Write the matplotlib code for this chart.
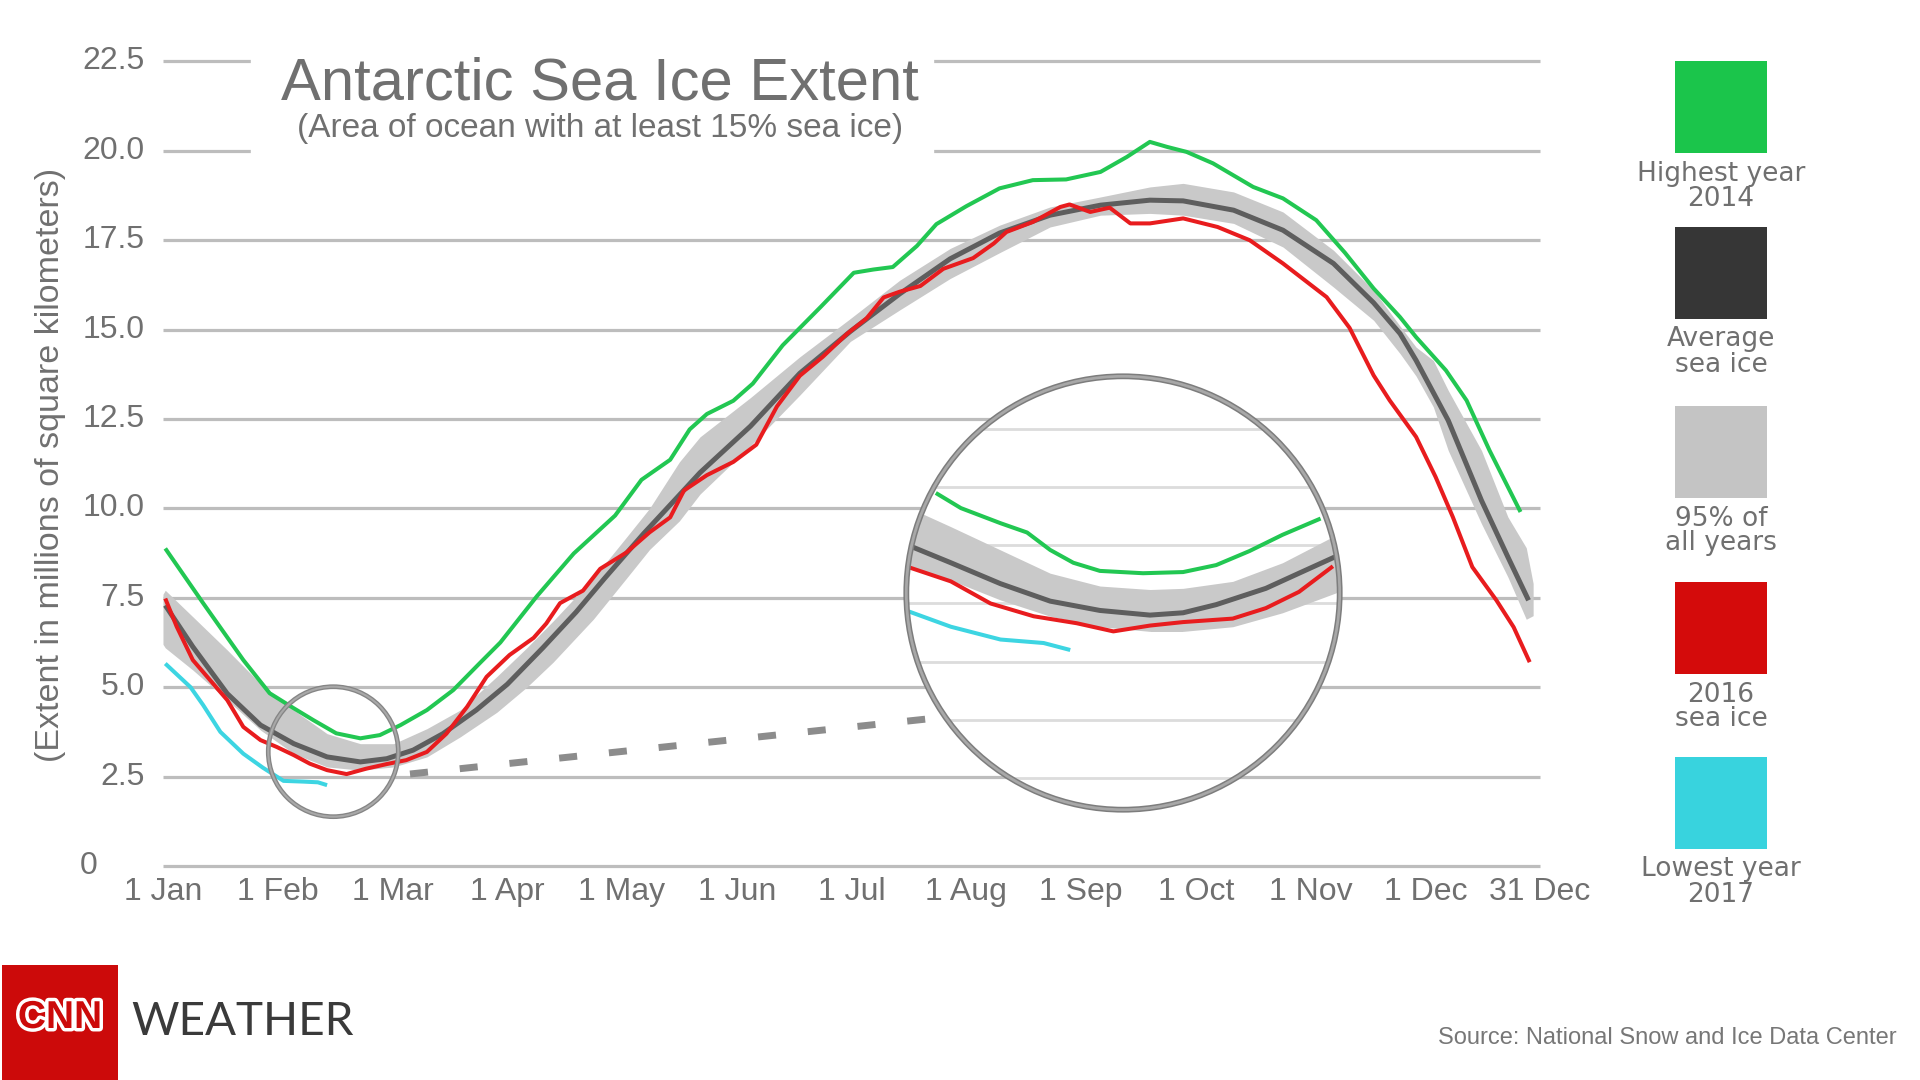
import matplotlib
matplotlib.use('Agg')
import matplotlib.pyplot as plt
import matplotlib.patheffects as pe
from matplotlib.patches import Rectangle, Circle, Ellipse
from matplotlib.lines import Line2D

# ---- data (x in months from 1 Jan, y in million km2) ----
month_labels = ['1 Jan', '1 Feb', '1 Mar', '1 Apr', '1 May', '1 Jun', '1 Jul',
                '1 Aug', '1 Sep', '1 Oct', '1 Nov', '1 Dec', '31 Dec']
y_ticks = [0, 2.5, 5.0, 7.5, 10.0, 12.5, 15.0, 17.5, 20.0, 22.5]
y_tick_labels = ['0', '2.5', '5.0', '7.5', '10.0', '12.5', '15.0', '17.5', '20.0', '22.5']

high_m = [0.02, 0.35, 0.70, 0.93, 1.14, 1.31, 1.51, 1.72, 1.89, 2.07, 2.30, 2.53, 2.76,
          2.94, 3.26, 3.58, 3.94, 4.17, 4.42, 4.59, 4.74, 4.97, 5.14, 5.40, 5.73, 6.02,
          6.19, 6.36, 6.57, 6.74, 7.00, 7.29, 7.58, 7.87, 8.17, 8.40, 8.60, 8.75, 8.92,
          9.15, 9.50, 9.76, 10.05, 10.30, 10.55, 10.78, 10.92, 11.18, 11.36, 11.56, 11.83]
high_v = [8.88, 7.35, 5.76, 4.83, 4.41, 4.08, 3.71, 3.57, 3.66, 3.94, 4.36, 4.92, 5.67,
          6.25, 7.55, 8.74, 9.80, 10.80, 11.36, 12.21, 12.64, 13.01, 13.49, 14.56, 15.63, 16.59,
          16.68, 16.75, 17.34, 17.95, 18.45, 18.95, 19.18, 19.20, 19.41, 19.83, 20.25, 20.11, 19.97,
          19.65, 18.99, 18.67, 18.06, 17.15, 16.15, 15.35, 14.79, 13.86, 13.02, 11.62, 9.90]

avg_m = [0.02, 0.26, 0.56, 0.85, 1.14, 1.43, 1.72, 1.95, 2.18, 2.44, 2.73, 3.00, 3.31,
         3.60, 3.85, 4.19, 4.45, 4.68, 5.12, 5.55, 5.99, 6.42, 6.86, 7.29, 7.73, 8.17,
         8.60, 8.89, 9.33, 9.76, 10.20, 10.55, 10.78, 10.92, 11.20, 11.49, 11.72, 11.90]
avg_v = [7.29, 6.13, 4.82, 3.94, 3.42, 3.05, 2.91, 3.00, 3.24, 3.70, 4.36, 5.08, 6.10,
         7.10, 8.05, 9.30, 10.20, 11.00, 12.30, 13.78, 14.95, 16.00, 16.98, 17.70, 18.20, 18.48,
         18.62, 18.60, 18.34, 17.78, 16.85, 15.75, 14.89, 14.14, 12.46, 10.22, 8.64, 7.43]

band_m = [0.00, 0.02, 0.26, 0.56, 0.85, 1.14, 1.43, 1.72, 2.01, 2.30, 2.59, 2.91, 3.17,
          3.40, 3.75, 4.04, 4.24, 4.50, 4.68, 5.12, 5.55, 5.99, 6.42, 6.86, 7.29, 7.73, 8.17,
          8.60, 8.89, 9.33, 9.76, 10.20, 10.55, 10.78, 10.92, 11.07, 11.20, 11.49, 11.72,
          11.88, 11.94]
band_hi = [7.60, 7.71, 6.97, 6.04, 5.10, 4.36, 3.70, 3.42, 3.42, 3.84, 4.36, 5.30, 6.10,
           6.85, 8.05, 9.20, 10.00, 11.30, 12.00, 13.10, 14.24, 15.31, 16.38, 17.27, 17.92, 18.43, 18.71,
           18.99, 19.09, 18.85, 18.29, 17.22, 16.10, 15.10, 14.51, 14.14, 13.30, 11.62, 9.76,
           8.90, 7.90]
band_lo = [6.20, 6.10, 5.48, 4.64, 3.80, 3.14, 2.77, 2.68, 2.77, 3.05, 3.61, 4.30, 5.00,
           5.70, 6.90, 8.05, 8.85, 9.65, 10.40, 11.75, 13.17, 14.67, 15.55, 16.43, 17.15, 17.87, 18.20,
           18.25, 18.20, 17.97, 17.31, 16.19, 15.26, 14.33, 13.70, 12.84, 11.62, 9.57, 8.08,
           6.90, 7.00]

y2016_m = [0.02, 0.12, 0.26, 0.41, 0.56, 0.70, 0.85, 0.99, 1.14, 1.28, 1.43, 1.60, 1.77,
           1.95, 2.12, 2.30, 2.47, 2.65, 2.82, 3.02, 3.23, 3.34, 3.46, 3.66, 3.81, 4.04,
           4.24, 4.42, 4.54, 4.74, 4.97, 5.17, 5.35, 5.55, 5.75, 5.96, 6.13, 6.28, 6.42,
           6.60, 6.80, 7.06, 7.24, 7.35, 7.58, 7.82, 7.90, 8.08, 8.25, 8.43, 8.60, 8.89,
           9.19, 9.47, 9.76, 10.14, 10.34, 10.55, 10.69, 10.92, 11.09, 11.24, 11.41, 11.62,
           11.77, 11.91]
y2016_v = [7.48, 6.69, 5.76, 5.20, 4.64, 3.89, 3.52, 3.33, 3.10, 2.86, 2.68, 2.57, 2.72,
           2.85, 2.96, 3.19, 3.70, 4.45, 5.29, 5.90, 6.38, 6.78, 7.35, 7.70, 8.31, 8.77,
           9.33, 9.75, 10.50, 10.93, 11.30, 11.78, 12.85, 13.71, 14.24, 14.88, 15.31, 15.90, 16.06,
           16.22, 16.70, 17.00, 17.41, 17.73, 18.01, 18.43, 18.50, 18.29, 18.41, 17.97, 17.97, 18.11,
           17.87, 17.50, 16.85, 15.91, 15.05, 13.72, 13.02, 12.00, 10.88, 9.76, 8.36, 7.43,
           6.68, 5.70]

low_m = [0.02, 0.24, 0.35, 0.50, 0.70, 0.87, 1.05, 1.22, 1.35, 1.43]
low_v = [5.66, 5.00, 4.50, 3.75, 3.14, 2.75, 2.38, 2.36, 2.34, 2.26]

# zoomed view drawn inside the big circle
in_green_m = [0.994, 1.059, 1.162, 1.231, 1.291, 1.351, 1.420, 1.532, 1.636, 1.722, 1.808, 1.894, 1.993]
in_green_v = [3.95, 3.82, 3.69, 3.61, 3.46, 3.35, 3.28, 3.26, 3.27, 3.33, 3.45, 3.59, 3.73]
in_avg_m = [0.930, 1.033, 1.162, 1.291, 1.420, 1.550, 1.636, 1.722, 1.851, 1.937, 2.030]
in_avg_v = [3.49, 3.35, 3.17, 3.02, 2.94, 2.90, 2.92, 2.99, 3.13, 3.26, 3.40]
in_band_m = [0.920, 1.033, 1.162, 1.291, 1.420, 1.550, 1.636, 1.765, 1.894, 2.040]
in_band_hi = [3.83, 3.66, 3.46, 3.26, 3.15, 3.12, 3.13, 3.19, 3.35, 3.60]
in_band_lo = [3.33, 3.20, 3.03, 2.89, 2.80, 2.76, 2.76, 2.80, 2.92, 3.10]
in_red_m = [0.925, 1.033, 1.136, 1.248, 1.360, 1.455, 1.550, 1.636, 1.765, 1.851, 1.937, 2.025]
in_red_v = [3.31, 3.19, 3.00, 2.89, 2.83, 2.76, 2.81, 2.84, 2.87, 2.96, 3.10, 3.32]
in_low_m = [0.925, 1.033, 1.162, 1.274, 1.343]
in_low_v = [2.93, 2.80, 2.69, 2.66, 2.60]

legend_labels = ['Highest year\n2014', 'Average\nsea ice', '95% of\nall years',
                 '2016\nsea ice', 'Lowest year\n2017']
legend_colors = ['#1bc54b', '#363636', '#c4c4c4', '#d40b0b', '#38d3de']

# ---- styling ----
GREEN = '#22c752'
AVG = '#5e5e5e'
BAND = '#c9c9c9'
RED = '#e81c1e'
CYAN = '#3dd5e2'
GRID = '#bdbdbd'
TXT = '#707070'
SANS = 'Liberation Sans'
LINE = dict(solid_capstyle='butt', solid_joinstyle='round')

W, H = 1920, 1080
fig = plt.figure(figsize=(19.2, 10.8), dpi=100)


def fx(px):
    return px / W


def fy(py):
    return 1 - py / H


# main axes: 1 Jan at x=163px, 31 Dec at 1540px; 0 at y=866px, 22.5 at 61.4px
ax = fig.add_axes([fx(151.5), fy(876.7), 1400 / W, (876.7 - 50.7) / H])
ax.set_xlim(-0.1, 12.1)
ax.set_ylim(-0.3, 22.8)
ax.axis('off')

ax.hlines(y_ticks, 0, 12, color=GRID, lw=2.3, zorder=1)
for v, lab in zip(y_ticks, y_tick_labels):
    # the "0" sits further left so it clears the "1 Jan" label
    x = -0.57 if lab == '0' else -0.16
    ax.text(x, v, lab, ha='right', va='center', fontsize=23, color=TXT, family=SANS)
for i, lab in enumerate(month_labels):
    ax.text(i, -0.72, lab, ha='center', va='center', fontsize=23, color=TXT, family=SANS)

ax.fill_between(band_m, band_lo, band_hi, color=BAND, lw=0, zorder=2)
ax.plot(high_m, high_v, color=GREEN, lw=2.9, zorder=3, **LINE)
ax.plot(avg_m, avg_v, color=AVG, lw=3.6, zorder=4, **LINE)
ax.plot(y2016_m, y2016_v, color=RED, lw=2.9, zorder=5, **LINE)
ax.plot(low_m, low_v, color=CYAN, lw=2.9, zorder=6, **LINE)

# small circle around the minimum (round in pixels)
cx, cy = 1.484, 3.196
ew, eh = 130 / 114.75, 130 / 35.76
ax.add_patch(Ellipse((cx, cy), ew, eh, fill=False, ec='#858585', lw=3.4, zorder=7))
ax.add_patch(Ellipse((cx, cy), ew, eh, fill=False, ec='#a8a8a8', lw=1.5, zorder=7))

# title block with white backing
ax.add_patch(Rectangle((fx(251), fy(165)), fx(933) - fx(251), fy(38) - fy(165),
                       transform=fig.transFigure, color='white', zorder=1.5, clip_on=False))
fig.text(fx(600), fy(84), 'Antarctic Sea Ice Extent', ha='center', va='center',
         fontsize=43, color=TXT, family=SANS)
fig.text(fx(600), fy(128), '(Area of ocean with at least 15% sea ice)',
         ha='center', va='center', fontsize=24, color=TXT, family=SANS)

fig.text(fx(51), fy(465), '(Extent in millions of square kilometers)', rotation=90,
         ha='center', va='center', fontsize=24.5, color=TXT, family=SANS)

# dashed connector
fig.add_artist(Line2D([fx(410), fx(927)], [fy(774), fy(719)], transform=fig.transFigure,
                      color='#8c8c8c', lw=5, dashes=(2.6, 4.6), solid_capstyle='butt',
                      dash_capstyle='butt'))

# ---- zoomed inset inside the big circle ----
R = 218
ax2 = fig.add_axes([fx(1123 - R), fy(593 + R), 2 * R / W, 2 * R / H])
ax2.set_xlim(0.914, 2.046)
ax2.set_ylim(1.216, 4.964)
ax2.axis('off')
clip = Circle((0.5, 0.5), 0.5, transform=ax2.transAxes)
ax2.add_patch(Circle((0.5, 0.5), 0.5, transform=ax2.transAxes, color='white', zorder=0))
arts = []
arts.append(ax2.hlines([1.5, 2.0, 2.5, 3.0, 3.5, 4.0, 4.5], 0.8, 2.2, color='#dcdcdc', lw=2, zorder=1))
arts.append(ax2.fill_between(in_band_m, in_band_lo, in_band_hi, color=BAND, lw=0, zorder=2))
arts += ax2.plot(in_green_m, in_green_v, color=GREEN, lw=2.9, zorder=3, **LINE)
arts += ax2.plot(in_avg_m, in_avg_v, color=AVG, lw=3.6, zorder=4, **LINE)
arts += ax2.plot(in_red_m, in_red_v, color=RED, lw=2.9, zorder=5, **LINE)
arts += ax2.plot(in_low_m, in_low_v, color=CYAN, lw=2.9, zorder=6, **LINE)
for a in arts:
    a.set_clip_path(clip)
ax2.add_patch(Circle((0.5, 0.5), 0.497, transform=ax2.transAxes, fill=False,
                     ec='#7d7d7d', lw=4.2, zorder=8, clip_on=False))
ax2.add_patch(Circle((0.5, 0.5), 0.497, transform=ax2.transAxes, fill=False,
                     ec='#a8a8a8', lw=2.0, zorder=9, clip_on=False))

# ---- legend column ----
box_tops = [61, 227, 406, 582, 757]
for top, col, lab in zip(box_tops, legend_colors, legend_labels):
    fig.add_artist(Rectangle((fx(1675), fy(top + 92)), 92 / W, 92 / H,
                             transform=fig.transFigure, color=col, lw=0))
    fig.text(fx(1721), fy(top + 125), lab, ha='center', va='center', fontsize=19,
             color=TXT, family='DejaVu Sans', linespacing=0.95)

# ---- footer ----
fig.add_artist(Rectangle((fx(2), 0), 116 / W, 115 / H, transform=fig.transFigure,
                         color='#cc0a0a', lw=0))
fig.text(fx(60), fy(1018), 'CNN', ha='center', va='center', fontsize=28, weight='bold',
         color='#cc0a0a', family=SANS,
         path_effects=[pe.Stroke(linewidth=5, foreground='white'), pe.Normal()])
fig.text(fx(131), fy(1022), 'WEATHER', ha='left', va='center', fontsize=33,
         color='#3a3a3a', family='Lato')
fig.text(fx(1897), fy(1038), 'Source: National Snow and Ice Data Center', ha='right',
         va='center', fontsize=17, color='#777777', family=SANS)

fig.savefig('out.png', dpi=100, facecolor='white')
